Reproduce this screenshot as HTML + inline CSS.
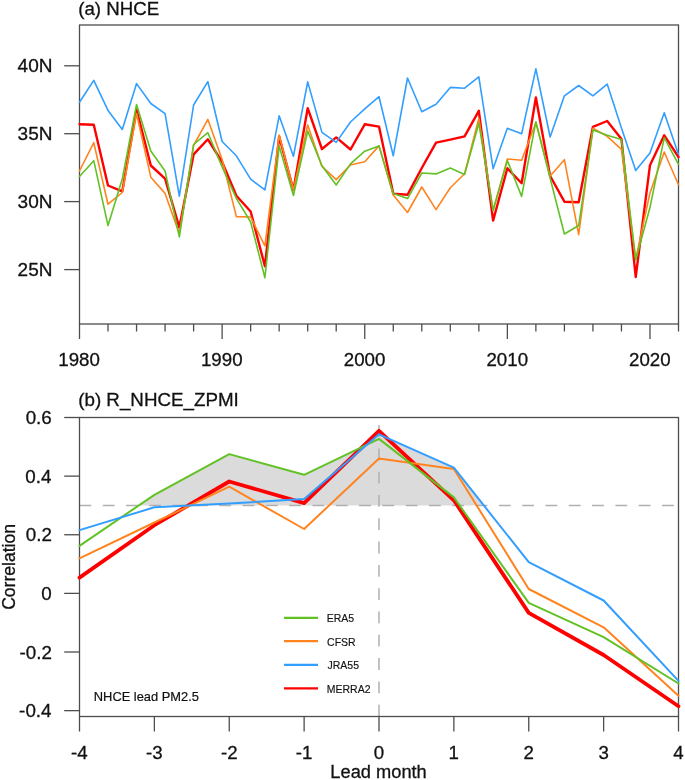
<!DOCTYPE html>
<html><head><meta charset="utf-8"><title>NHCE</title>
<style>html,body{margin:0;padding:0;background:#fff;}body{width:685px;height:780px;overflow:hidden;}svg{display:block;}text{font-family:"Liberation Sans", Arial, Helvetica, sans-serif;fill:#111;}</style></head><body>
<svg width="685" height="780" viewBox="0 0 685 780">
<rect x="0" y="0" width="685" height="780" fill="#fff"/>
<g id="pa">
<rect x="79.5" y="25.0" width="599.0" height="299.0" fill="none" stroke="#4d4d4d" stroke-width="1.3"/>
<polyline points="79.50,124.20 93.76,124.80 108.02,185.50 122.29,191.30 136.55,109.50 150.81,165.50 165.07,178.70 179.33,227.40 193.60,154.40 207.86,139.30 222.12,162.00 236.38,195.70 250.64,211.50 264.90,266.30 279.17,136.50 293.43,190.00 307.69,108.10 321.95,149.00 336.21,137.40 350.48,149.50 364.74,124.30 379.00,126.60 393.26,193.60 407.52,194.80 421.79,168.00 436.05,142.60 450.31,139.60 464.57,136.30 478.83,110.80 493.10,220.60 507.36,168.20 521.62,183.30 535.88,97.50 550.14,176.00 564.40,201.70 578.67,202.20 592.93,126.80 607.19,121.00 621.45,138.90 635.71,277.00 649.98,165.20 664.24,135.30 678.50,157.00" fill="none" stroke="#ff0000" stroke-width="2.4" stroke-linejoin="round" stroke-linecap="round"/>
<polyline points="79.50,171.00 93.76,142.70 108.02,204.20 122.29,192.50 136.55,113.50 150.81,177.20 165.07,193.40 179.33,233.80 193.60,145.50 207.86,119.40 222.12,159.50 236.38,216.60 250.64,217.00 264.90,246.00 279.17,135.00 293.43,189.80 307.69,124.90 321.95,166.40 336.21,179.60 350.48,165.00 364.74,161.80 379.00,145.90 393.26,195.00 407.52,212.50 421.79,187.00 436.05,209.60 450.31,187.70 464.57,173.80 478.83,118.40 493.10,210.50 507.36,159.00 521.62,160.20 535.88,122.80 550.14,176.00 564.40,159.70 578.67,234.70 592.93,128.20 607.19,136.30 621.45,149.30 635.71,259.20 649.98,193.00 664.24,152.00 678.50,184.70" fill="none" stroke="#ff8420" stroke-width="1.6" stroke-linejoin="round" stroke-linecap="round"/>
<polyline points="79.50,176.50 93.76,160.70 108.02,225.60 122.29,179.00 136.55,104.50 150.81,151.00 165.07,171.00 179.33,236.90 193.60,144.50 207.86,132.70 222.12,167.00 236.38,198.40 250.64,222.00 264.90,277.70 279.17,146.00 293.43,195.50 307.69,131.00 321.95,165.70 336.21,185.00 350.48,163.90 364.74,151.20 379.00,145.90 393.26,193.50 407.52,198.60 421.79,173.00 436.05,173.90 450.31,168.00 464.57,174.50 478.83,123.20 493.10,210.50 507.36,160.60 521.62,196.40 535.88,121.70 550.14,178.20 564.40,234.00 578.67,225.50 592.93,130.00 607.19,135.30 621.45,139.60 635.71,260.10 649.98,207.50 664.24,137.70 678.50,164.30" fill="none" stroke="#62c225" stroke-width="1.6" stroke-linejoin="round" stroke-linecap="round"/>
<polyline points="79.50,102.30 93.76,80.40 108.02,110.40 122.29,129.50 136.55,83.60 150.81,103.50 165.07,113.70 179.33,196.20 193.60,105.00 207.86,81.70 222.12,141.50 236.38,155.80 250.64,179.20 264.90,189.90 279.17,115.80 293.43,156.30 307.69,81.90 321.95,132.40 336.21,142.40 350.48,122.00 364.74,108.90 379.00,96.70 393.26,155.70 407.52,78.00 421.79,111.70 436.05,104.30 450.31,87.40 464.57,88.20 478.83,76.80 493.10,168.70 507.36,128.30 521.62,133.80 535.88,68.80 550.14,137.00 564.40,95.80 578.67,85.50 592.93,95.80 607.19,84.10 621.45,128.00 635.71,170.60 649.98,153.00 664.24,112.80 678.50,154.50" fill="none" stroke="#329eff" stroke-width="1.6" stroke-linejoin="round" stroke-linecap="round"/>
<line x1="64.2" y1="65.8" x2="79.5" y2="65.8" stroke="#4d4d4d" stroke-width="1.3"/>
<line x1="64.2" y1="133.7" x2="79.5" y2="133.7" stroke="#4d4d4d" stroke-width="1.3"/>
<line x1="64.2" y1="201.6" x2="79.5" y2="201.6" stroke="#4d4d4d" stroke-width="1.3"/>
<line x1="64.2" y1="269.6" x2="79.5" y2="269.6" stroke="#4d4d4d" stroke-width="1.3"/>
<line x1="79.50" y1="324.0" x2="79.50" y2="339.0" stroke="#4d4d4d" stroke-width="1.3"/>
<line x1="108.02" y1="324.0" x2="108.02" y2="331.5" stroke="#4d4d4d" stroke-width="1.3"/>
<line x1="136.55" y1="324.0" x2="136.55" y2="331.5" stroke="#4d4d4d" stroke-width="1.3"/>
<line x1="165.07" y1="324.0" x2="165.07" y2="331.5" stroke="#4d4d4d" stroke-width="1.3"/>
<line x1="193.60" y1="324.0" x2="193.60" y2="331.5" stroke="#4d4d4d" stroke-width="1.3"/>
<line x1="222.12" y1="324.0" x2="222.12" y2="339.0" stroke="#4d4d4d" stroke-width="1.3"/>
<line x1="250.64" y1="324.0" x2="250.64" y2="331.5" stroke="#4d4d4d" stroke-width="1.3"/>
<line x1="279.17" y1="324.0" x2="279.17" y2="331.5" stroke="#4d4d4d" stroke-width="1.3"/>
<line x1="307.69" y1="324.0" x2="307.69" y2="331.5" stroke="#4d4d4d" stroke-width="1.3"/>
<line x1="336.21" y1="324.0" x2="336.21" y2="331.5" stroke="#4d4d4d" stroke-width="1.3"/>
<line x1="364.74" y1="324.0" x2="364.74" y2="339.0" stroke="#4d4d4d" stroke-width="1.3"/>
<line x1="393.26" y1="324.0" x2="393.26" y2="331.5" stroke="#4d4d4d" stroke-width="1.3"/>
<line x1="421.79" y1="324.0" x2="421.79" y2="331.5" stroke="#4d4d4d" stroke-width="1.3"/>
<line x1="450.31" y1="324.0" x2="450.31" y2="331.5" stroke="#4d4d4d" stroke-width="1.3"/>
<line x1="478.83" y1="324.0" x2="478.83" y2="331.5" stroke="#4d4d4d" stroke-width="1.3"/>
<line x1="507.36" y1="324.0" x2="507.36" y2="339.0" stroke="#4d4d4d" stroke-width="1.3"/>
<line x1="535.88" y1="324.0" x2="535.88" y2="331.5" stroke="#4d4d4d" stroke-width="1.3"/>
<line x1="564.40" y1="324.0" x2="564.40" y2="331.5" stroke="#4d4d4d" stroke-width="1.3"/>
<line x1="592.93" y1="324.0" x2="592.93" y2="331.5" stroke="#4d4d4d" stroke-width="1.3"/>
<line x1="621.45" y1="324.0" x2="621.45" y2="331.5" stroke="#4d4d4d" stroke-width="1.3"/>
<line x1="649.98" y1="324.0" x2="649.98" y2="339.0" stroke="#4d4d4d" stroke-width="1.3"/>
<line x1="678.50" y1="324.0" x2="678.50" y2="331.5" stroke="#4d4d4d" stroke-width="1.3"/>
</g>
<g id="pb">
<polygon points="138.82,505.44 138.82,505.42 154.24,494.89 154.39,494.79 229.14,454.16 229.29,454.11 304.03,474.77 304.18,474.77 362.30,446.91 362.45,446.78 378.93,430.87 379.07,430.87 386.11,437.40 386.26,437.53 453.82,467.58 453.97,467.72 483.78,505.38 483.78,505.44" fill="#dbdbdb" stroke="none"/>
<line x1="79.5" y1="505.44" x2="678.5" y2="505.44" stroke="#b0b0b0" stroke-width="1.5" stroke-dasharray="11.8 11.5"/>
<line x1="379.00" y1="716.5" x2="379.00" y2="417.5" stroke="#b0b0b0" stroke-width="1.5" stroke-dasharray="11.8 11.5"/>
<rect x="79.5" y="417.5" width="599.0" height="299.0" fill="none" stroke="#4d4d4d" stroke-width="1.3"/>
<polyline points="79.50,577.60 154.38,525.20 229.25,481.50 304.12,503.10 379.00,430.80 453.88,500.30 528.75,612.90 603.62,655.00 678.50,706.20" fill="none" stroke="#ff0000" stroke-width="3.8" stroke-linejoin="round" stroke-linecap="round"/>
<polyline points="79.50,558.30 154.38,522.50 229.25,486.70 304.12,529.00 379.00,458.50 453.88,469.00 528.75,589.00 603.62,627.30 678.50,695.80" fill="none" stroke="#ff8420" stroke-width="2.0" stroke-linejoin="round" stroke-linecap="round"/>
<polyline points="79.50,545.90 154.38,494.80 229.25,454.10 304.12,474.80 379.00,438.90 453.88,497.40 528.75,602.90 603.62,637.10 678.50,683.50" fill="none" stroke="#62c225" stroke-width="2.0" stroke-linejoin="round" stroke-linecap="round"/>
<polyline points="79.50,530.10 154.38,507.30 229.25,503.50 304.12,499.00 379.00,434.30 453.88,467.60 528.75,562.20 603.62,600.50 678.50,680.90" fill="none" stroke="#329eff" stroke-width="2.0" stroke-linejoin="round" stroke-linecap="round"/>
<line x1="64.2" y1="417.50" x2="79.5" y2="417.50" stroke="#4d4d4d" stroke-width="1.3"/>
<line x1="64.2" y1="476.13" x2="79.5" y2="476.13" stroke="#4d4d4d" stroke-width="1.3"/>
<line x1="64.2" y1="534.75" x2="79.5" y2="534.75" stroke="#4d4d4d" stroke-width="1.3"/>
<line x1="64.2" y1="593.38" x2="79.5" y2="593.38" stroke="#4d4d4d" stroke-width="1.3"/>
<line x1="64.2" y1="652.01" x2="79.5" y2="652.01" stroke="#4d4d4d" stroke-width="1.3"/>
<line x1="64.2" y1="710.64" x2="79.5" y2="710.64" stroke="#4d4d4d" stroke-width="1.3"/>
<line x1="79.50" y1="716.5" x2="79.50" y2="731.5" stroke="#4d4d4d" stroke-width="1.3"/>
<line x1="154.38" y1="716.5" x2="154.38" y2="731.5" stroke="#4d4d4d" stroke-width="1.3"/>
<line x1="229.25" y1="716.5" x2="229.25" y2="731.5" stroke="#4d4d4d" stroke-width="1.3"/>
<line x1="304.12" y1="716.5" x2="304.12" y2="731.5" stroke="#4d4d4d" stroke-width="1.3"/>
<line x1="379.00" y1="716.5" x2="379.00" y2="731.5" stroke="#4d4d4d" stroke-width="1.3"/>
<line x1="453.88" y1="716.5" x2="453.88" y2="731.5" stroke="#4d4d4d" stroke-width="1.3"/>
<line x1="528.75" y1="716.5" x2="528.75" y2="731.5" stroke="#4d4d4d" stroke-width="1.3"/>
<line x1="603.62" y1="716.5" x2="603.62" y2="731.5" stroke="#4d4d4d" stroke-width="1.3"/>
<line x1="678.50" y1="716.5" x2="678.50" y2="731.5" stroke="#4d4d4d" stroke-width="1.3"/>
<line x1="284" y1="617.8" x2="318" y2="617.8" stroke="#62c225" stroke-width="2.2"/>
<line x1="284" y1="641.2" x2="318" y2="641.2" stroke="#ff8420" stroke-width="2.2"/>
<line x1="284" y1="664.8" x2="318" y2="664.8" stroke="#329eff" stroke-width="2.2"/>
<line x1="284" y1="688.4" x2="318" y2="688.4" stroke="#ff0000" stroke-width="2.2"/>
<text transform="translate(17.60,72.20) scale(1.0000,1.0000)" font-size="19" stroke="#111" stroke-width="0.3">40N</text>
<text transform="translate(17.60,140.10) scale(1.0000,1.0000)" font-size="19" stroke="#111" stroke-width="0.3">35N</text>
<text transform="translate(17.60,208.00) scale(1.0000,1.0000)" font-size="19" stroke="#111" stroke-width="0.3">30N</text>
<text transform="translate(17.60,276.00) scale(1.0000,1.0000)" font-size="19" stroke="#111" stroke-width="0.3">25N</text>
<text transform="translate(58.32,365.80) scale(0.9850,1.0000)" font-size="19" stroke="#111" stroke-width="0.3">1980</text>
<text transform="translate(200.94,365.80) scale(0.9850,1.0000)" font-size="19" stroke="#111" stroke-width="0.3">1990</text>
<text transform="translate(343.81,365.80) scale(0.9850,1.0000)" font-size="19" stroke="#111" stroke-width="0.3">2000</text>
<text transform="translate(486.43,365.80) scale(0.9850,1.0000)" font-size="19" stroke="#111" stroke-width="0.3">2010</text>
<text transform="translate(629.04,365.80) scale(0.9850,1.0000)" font-size="19" stroke="#111" stroke-width="0.3">2020</text>
<text transform="translate(78.21,15.10) scale(0.9851,1.0000)" font-size="19" stroke="#111" stroke-width="0.3">(a) NHCE</text>
<text transform="translate(25.66,424.20) scale(0.9900,1.0000)" font-size="19" stroke="#111" stroke-width="0.3">0.6</text>
<text transform="translate(25.36,482.83) scale(0.9900,1.0000)" font-size="19" stroke="#111" stroke-width="0.3">0.4</text>
<text transform="translate(25.76,541.45) scale(0.9900,1.0000)" font-size="19" stroke="#111" stroke-width="0.3">0.2</text>
<text transform="translate(41.20,600.08) scale(0.9900,1.0000)" font-size="19" stroke="#111" stroke-width="0.3">0</text>
<text transform="translate(19.52,658.71) scale(0.9900,1.0000)" font-size="19" stroke="#111" stroke-width="0.3">-0.2</text>
<text transform="translate(19.12,717.34) scale(0.9900,1.0000)" font-size="19" stroke="#111" stroke-width="0.3">-0.4</text>
<text transform="translate(71.03,758.90) scale(0.9850,1.0000)" font-size="19" stroke="#111" stroke-width="0.3">-4</text>
<text transform="translate(146.05,758.90) scale(0.9850,1.0000)" font-size="19" stroke="#111" stroke-width="0.3">-3</text>
<text transform="translate(220.98,758.90) scale(0.9850,1.0000)" font-size="19" stroke="#111" stroke-width="0.3">-2</text>
<text transform="translate(295.85,758.90) scale(0.9850,1.0000)" font-size="19" stroke="#111" stroke-width="0.3">-1</text>
<text transform="translate(373.78,758.90) scale(0.9850,1.0000)" font-size="19" stroke="#111" stroke-width="0.3">0</text>
<text transform="translate(448.41,758.90) scale(0.9850,1.0000)" font-size="19" stroke="#111" stroke-width="0.3">1</text>
<text transform="translate(523.53,758.90) scale(0.9850,1.0000)" font-size="19" stroke="#111" stroke-width="0.3">2</text>
<text transform="translate(598.45,758.90) scale(0.9850,1.0000)" font-size="19" stroke="#111" stroke-width="0.3">3</text>
<text transform="translate(673.33,758.90) scale(0.9850,1.0000)" font-size="19" stroke="#111" stroke-width="0.3">4</text>
<text transform="translate(330.35,777.80) scale(0.9612,1.0000)" font-size="19" stroke="#111" stroke-width="0.3">Lead month</text>
<text transform="translate(15.00,609.84) rotate(-90) scale(0.9243,1.0000)" font-size="19" stroke="#111" stroke-width="0.3">Correlation</text>
<text transform="translate(78.21,405.60) scale(0.9887,1.0000)" font-size="19" stroke="#111" stroke-width="0.3">(b) R_NHCE_ZPMI</text>
<text transform="translate(93.79,700.80) scale(1.0068,1.0000)" font-size="12.8" stroke="#111" stroke-width="0.2">NHCE lead PM2.5</text>
<text transform="translate(326.79,621.90) scale(1.0100,1.0000)" font-size="10.4" stroke="#111" stroke-width="0.15">ERA5</text>
<text transform="translate(327.10,645.60) scale(1.0100,1.0000)" font-size="10.4" stroke="#111" stroke-width="0.15">CFSR</text>
<text transform="translate(327.50,668.60) scale(1.0100,1.0000)" font-size="10.4" stroke="#111" stroke-width="0.15">JRA55</text>
<text transform="translate(326.79,692.50) scale(1.0100,1.0000)" font-size="10.4" stroke="#111" stroke-width="0.15">MERRA2</text>
</g>
</svg></body></html>
